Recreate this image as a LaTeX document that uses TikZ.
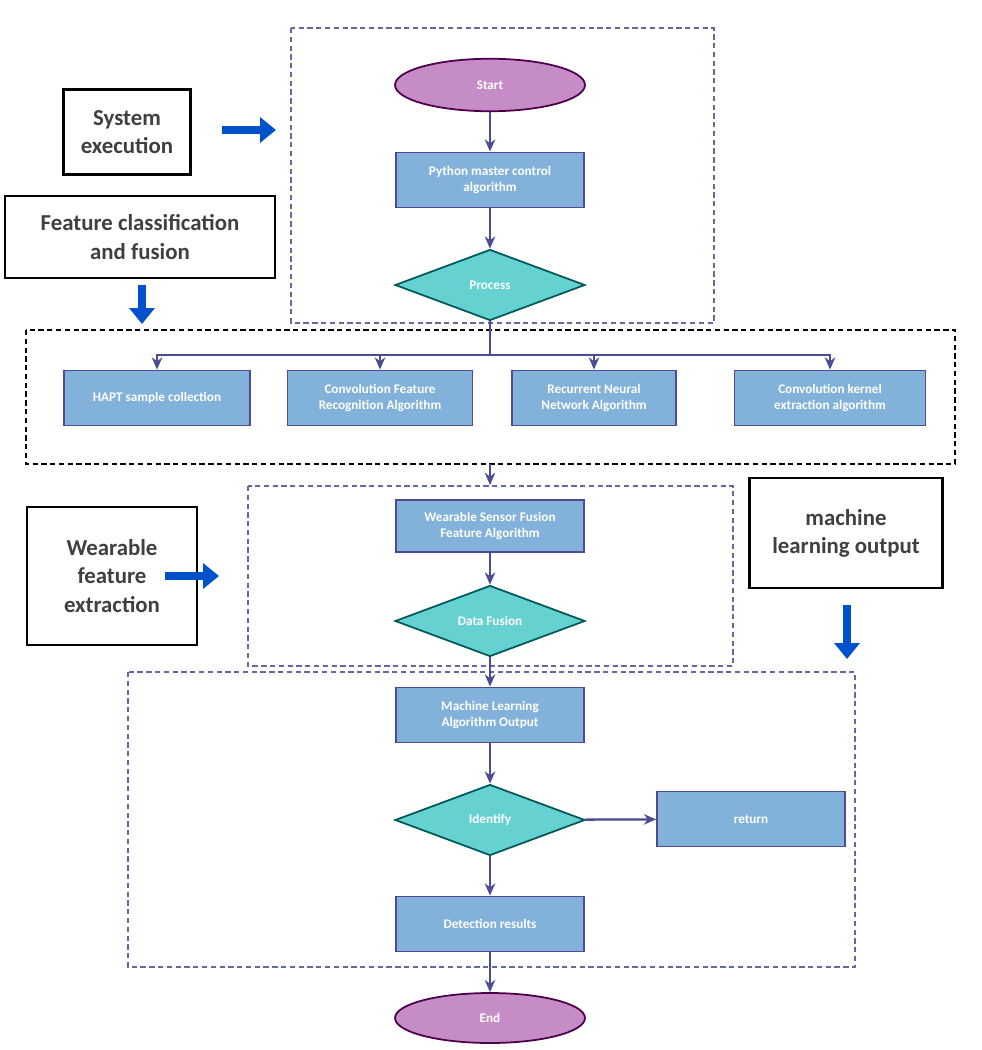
\documentclass[tikz,border=0pt]{standalone}
\usepackage{fontspec}
\setmainfont{Carlito}
\usetikzlibrary{arrows.meta,shapes.geometric}

\begin{document}
\begin{tikzpicture}[x=0.02cm,y=-0.02cm,>={Stealth[length=7pt,width=6pt]},
                    line width=1pt,
                    proc/.style={rectangle,draw=blue!40!black!70,fill=blue!45!cyan!40!white!85!black,
                      text=white,font=\bfseries\fontsize{7.5}{9}\selectfont,align=center,
                      minimum width=3.76cm,minimum height=1.1cm,inner sep=1pt},
                    dec/.style={diamond,draw=teal!70!black,fill=teal!60!cyan!60,aspect=2.7,
                      text=white,font=\bfseries\fontsize{7.5}{9}\selectfont,
                      minimum width=3.8cm,minimum height=1.42cm,inner sep=0pt},
                    term/.style={ellipse,draw=violet!60!black,fill=violet!45,text=white,
                      font=\bfseries\fontsize{7.5}{9}\selectfont,minimum width=3.8cm,minimum height=1.05cm},
                    flow/.style={->,draw=blue!40!black!70,line width=1.3pt},
                    group/.style={draw=blue!40!black!60,dash pattern=on 3pt off 2pt,line width=1.2pt},
                    tag/.style={rectangle,draw=black,line width=1.2pt,fill=white,align=center,
                      text=black!75,font=\bfseries\fontsize{13}{16}\selectfont},
                    hint/.style={-{Triangle[length=9pt,width=14pt]},draw=blue!60!cyan!80!black,line width=5pt}]
  \useasboundingbox (0,0) rectangle (982,1050);

  % groups
  \draw[group] (291,28) rectangle (714,323);
  \draw[group,draw=black] (26,330) rectangle (955,464);
  \draw[group] (248,486) rectangle (733,666);
  \draw[group] (128,672) rectangle (855,967);

  % flow nodes
  \node[term] (start)  at (490,85)  {Start};
  \node[proc] (python) at (490,180) {Python master control\\algorithm};
  \node[dec]  (process) at (490,285) {Process};
  \node[proc,minimum width=3.72cm] (hapt)  at (157,398) {HAPT sample collection};
  \node[proc,minimum width=3.7cm]  (conv)  at (380,398) {Convolution Feature\\Recognition Algorithm};
  \node[proc,minimum width=3.28cm] (rnn)   at (594,398) {Recurrent Neural\\Network Algorithm};
  \node[proc,minimum width=3.82cm] (kern)  at (830,398) {Convolution kernel\\extraction algorithm};
  \coordinate (bus)   at (490,355);
  \coordinate (gtop)  at (490,464);
  \node[proc,minimum height=1.04cm] (sensor) at (490,526) {Wearable Sensor Fusion\\Feature Algorithm};
  \node[dec]  (fusion) at (490,621) {Data Fusion};
  \node[proc] (mlout)  at (490,715) {Machine Learning\\Algorithm Output};
  \node[dec]  (ident)  at (490,820) {Identify};
  \node[proc] (ret)    at (751,819) {return};
  \node[term,minimum height=1cm] (end) at (490,1018) {End};
  \node[proc] (detect) at (490,924) {Detection results};

  \draw[flow] (start) -- (python);
  \draw[flow] (python) -- (process);
  \draw[blue!40!black!70,line width=1.3pt] (process.south) -- (bus);
  \draw[flow] (bus) -| (hapt.north);
  \draw[flow] (bus) -| (conv.north);
  \draw[flow] (bus) -| (rnn.north);
  \draw[flow] (bus) -| (kern.north);
  \draw[flow] (gtop) -- ++(0,21);
  \draw[flow] (sensor) -- (fusion);
  \draw[flow] (fusion) -- (mlout);
  \draw[flow] (mlout) -- (ident);
  \draw[flow] (ident) -- (ret);
  \draw[flow] (ident) -- (detect);
  \draw[flow] (detect) -- (end);

  % side labels
  \node[tag,minimum width=2.54cm,minimum height=1.7cm] (sysexe) at (127,132) {System\\execution};
  \node[tag,minimum width=5.4cm,minimum height=1.64cm] (featcls) at (140,237) {Feature classification\\and fusion};
  \node[tag,minimum width=3.4cm,minimum height=2.76cm] (wearext) at (112,576) {Wearable\\feature\\extraction};
  \node[tag,minimum width=3.86cm,minimum height=2.2cm] (mlabel) at (846,533) {machine\\learning output};
  \coordinate (a1) at (222,130);  \coordinate (a2) at (276,130);
  \coordinate (b1) at (142,285);  \coordinate (b2) at (142,324);
  \coordinate (c1) at (165,576);  \coordinate (c2) at (219,576);
  \coordinate (d1) at (847,605);  \coordinate (d2) at (847,659);
  \draw[hint] (a1) -- (a2);
  \draw[hint] (b1) -- (b2);
  \draw[hint] (c1) -- (c2);
  \draw[hint] (d1) -- (d2);
\end{tikzpicture}
\end{document}
